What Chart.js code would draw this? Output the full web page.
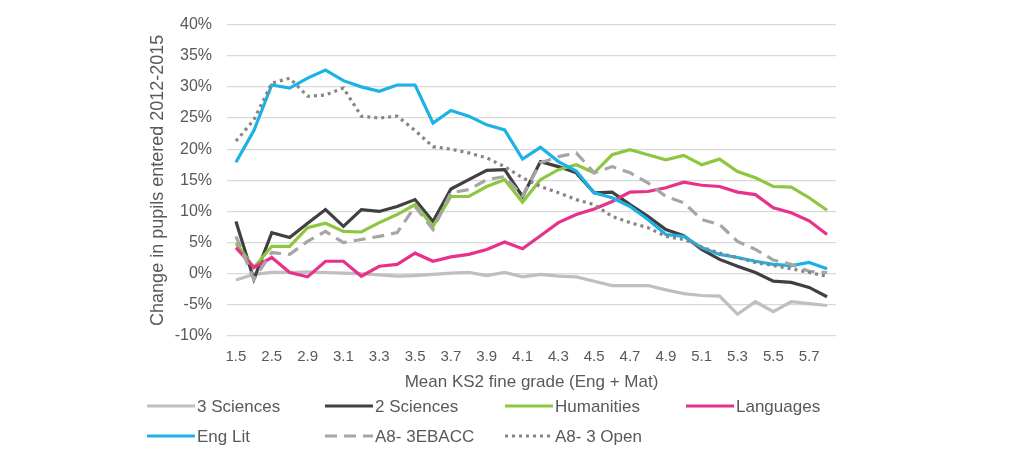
<!DOCTYPE html>
<html>
<head>
<meta charset="utf-8">
<script src="https://cdn.jsdelivr.net/npm/chart.js@4.4.1/dist/chart.umd.min.js"></script>
<style>
  html, body { margin: 0; padding: 0; background: #ffffff; }
  #wrap { width: 1024px; height: 452px; }
</style>
</head>
<body>
<div id="wrap"><canvas id="c" width="1024" height="452"></canvas></div>
<script>
const categories = ['1.5','2.3','2.5','2.7','2.9','3.0','3.1','3.2','3.3','3.4','3.5','3.6','3.7','3.8','3.9','4.0','4.1','4.2','4.3','4.4','4.5','4.6','4.7','4.8','4.9','5.0','5.1','5.2','5.3','5.4','5.5','5.6','5.7','5.8'];
const yTickValues = [-10, -5, 0, 5, 10, 15, 20, 25, 30, 35, 40];

const seriesNames = ['3 Sciences', '2 Sciences', 'Humanities', 'Languages', 'Eng Lit', 'A8- 3EBACC', 'A8- 3 Open'];

const threeSciences = [-1.0, -0.1, 0.2, 0.2, 0.3, 0.2, 0.1, 0.0, -0.2, -0.4, -0.3, -0.1, 0.1, 0.2, -0.3, 0.2, -0.5, -0.1, -0.4, -0.5, -1.2, -1.9, -1.9, -1.9, -2.6, -3.2, -3.5, -3.6, -6.5, -4.5, -6.1, -4.5, -4.8, -5.1];
const twoSciences = [8.4, -0.9, 6.6, 5.8, 8.1, 10.3, 7.6, 10.3, 10.0, 10.8, 11.9, 8.4, 13.6, 15.1, 16.6, 16.7, 12.4, 18.0, 17.2, 16.2, 13.0, 13.1, 11.1, 9.2, 7.1, 6.1, 3.9, 2.3, 1.2, 0.2, -1.2, -1.4, -2.2, -3.7];
const humanities = [4.9, 1.0, 4.4, 4.4, 7.4, 8.1, 6.8, 6.7, 8.2, 9.5, 11.1, 7.6, 12.4, 12.4, 14.0, 15.1, 11.5, 15.1, 16.7, 17.5, 16.2, 19.1, 19.9, 19.1, 18.3, 19.0, 17.5, 18.4, 16.4, 15.4, 14.0, 13.9, 12.2, 10.2];
const languages = [4.2, 1.0, 2.6, 0.2, -0.5, 2.0, 2.0, -0.4, 1.2, 1.5, 3.3, 2.0, 2.7, 3.1, 3.9, 5.1, 4.0, 6.1, 8.2, 9.5, 10.4, 11.6, 13.1, 13.2, 13.8, 14.7, 14.2, 14.0, 13.1, 12.7, 10.6, 9.8, 8.5, 6.3];
const engLit = [17.9, 23.0, 30.3, 29.8, 31.4, 32.7, 31.0, 30.0, 29.3, 30.3, 30.3, 24.2, 26.2, 25.3, 23.9, 23.1, 18.4, 20.3, 18.0, 16.5, 13.0, 12.2, 10.8, 8.7, 6.3, 6.0, 4.2, 3.1, 2.6, 2.0, 1.5, 1.3, 1.8, 0.8];
const a8Ebacc = [6.0, -0.9, 3.4, 3.1, 5.2, 6.8, 5.0, 5.5, 6.0, 6.6, 10.8, 7.1, 13.0, 13.5, 15.1, 15.6, 12.5, 17.8, 18.8, 19.4, 16.2, 17.2, 16.2, 14.6, 12.4, 11.4, 8.7, 7.9, 5.2, 3.9, 2.2, 1.5, 0.4, 0.2];
const a8Open = [21.3, 24.7, 30.6, 31.4, 28.5, 28.7, 29.8, 25.3, 25.0, 25.3, 23.0, 20.4, 20.0, 19.4, 18.6, 17.2, 15.4, 14.0, 13.0, 11.9, 11.1, 9.2, 8.2, 7.4, 6.0, 5.5, 4.3, 3.3, 2.6, 1.8, 1.3, 0.8, 0.2, -0.4];

const seriesValues = [threeSciences, twoSciences, humanities, languages, engLit, a8Ebacc, a8Open];
const seriesColors = ['#BFBFBF', '#404040', '#8DC63F', '#E8318A', '#1DB2E6', '#A6A6A6', '#858585'];
const seriesDashes = [[], [], [], [], [], [12, 7], [3, 4]];

const FONT = "'Liberation Sans', Arial, sans-serif";
const TEXT = '#595959';

const datasets = seriesNames.map((name, i) => ({
  label: name,
  data: seriesValues[i],
  borderColor: seriesColors[i],
  backgroundColor: seriesColors[i],
  borderWidth: 3.2,
  borderDash: seriesDashes[i],
  pointRadius: 0,
  pointHoverRadius: 0,
  tension: 0,
  fill: false,
  order: seriesNames.length - i
}));

const customLegend = {
  id: 'customLegend',
  afterDraw(chart) {
    const ctx = chart.ctx;
    const cols = [147, 325, 505, 686];
    const rows = [407, 437];
    ctx.save();
    ctx.font = '17px ' + FONT;
    ctx.textBaseline = 'middle';
    ctx.textAlign = 'left';
    chart.data.datasets.forEach((ds, i) => {
      const x = cols[i % 4];
      const y = rows[Math.floor(i / 4)];
      ctx.beginPath();
      ctx.strokeStyle = ds.borderColor;
      ctx.lineWidth = ds.borderWidth;
      ctx.setLineDash(ds.borderDash || []);
      ctx.moveTo(x, y - 1);
      ctx.lineTo(x + 48, y - 1);
      ctx.stroke();
      ctx.setLineDash([]);
      ctx.fillStyle = TEXT;
      ctx.fillText(ds.label, x + 50, y);
    });
    ctx.restore();
  }
};

new Chart(document.getElementById('c'), {
  type: 'line',
  data: { labels: categories, datasets: datasets },
  plugins: [customLegend],
  options: {
    responsive: false,
    animation: false,
    layout: { padding: { left: 0, right: 188, top: 24, bottom: 56 } },
    plugins: {
      legend: { display: false },
      tooltip: { enabled: false },
      title: { display: false }
    },
    scales: {
      x: {
        type: 'category',
        offset: true,
        grid: { display: false, drawTicks: false },
        border: { display: false },
        afterFit(scale) { scale.height = 60; },
        ticks: {
          autoSkip: false,
          maxRotation: 0,
          minRotation: 0,
          padding: 12,
          color: TEXT,
          font: { family: FONT, size: 15 },
          callback(value, index) { return index % 2 === 0 ? categories[index] : ''; }
        },
        title: {
          display: true,
          text: 'Mean KS2 fine grade (Eng + Mat)',
          color: TEXT,
          font: { family: FONT, size: 17 },
          padding: { top: 0, bottom: 3 }
        }
      },
      y: {
        min: -10,
        max: 40,
        afterFit(scale) { scale.width = 227; },
        afterBuildTicks(scale) { scale.ticks = yTickValues.map(v => ({ value: v })); },
        grid: { color: '#D9D9D9', lineWidth: 1.3, drawTicks: false },
        border: { display: false },
        ticks: {
          padding: 15,
          color: TEXT,
          font: { family: FONT, size: 16 },
          callback(v) { return v + '%'; }
        },
        title: {
          display: true,
          text: 'Change in pupils entered 2012-2015',
          color: TEXT,
          font: { family: FONT, size: 18 },
          padding: { top: 147, bottom: 0 }
        }
      }
    }
  }
});
</script>
</body>
</html>
